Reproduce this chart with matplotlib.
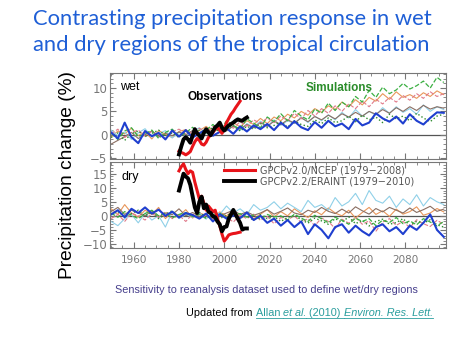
import matplotlib
matplotlib.use("Agg")
import matplotlib.pyplot as plt
from matplotlib.lines import Line2D
from matplotlib.ticker import MultipleLocator

# simulation years (3-yearly samples)
sim_years = list(range(1950, 2098, 3))

# wet regions, model simulations (%)
wet_blue = [0.5, -0.8, 2.6, -0.5, -1.8, 0.8, -0.3, 0.4, -1.0, 0.9, -0.4, 1.0, -0.6, 0.3, 1.1, -0.2,
            0.6, 1.4, 0.2, 1.8, 0.7, 2.0, 1.2, 2.3, 1.0, 2.6, 1.4, 2.9, 1.6, 1.0, 2.7, 1.5, 3.0, 1.8,
            2.4, 1.2, 3.4, 2.0, 2.6, 4.6, 3.5, 2.8, 3.9, 2.4, 4.4, 3.0, 2.2, 3.6, 4.8, 4.7]
wet_green = [0.3, -1.0, 0.8, 1.5, -0.4, 0.2, 1.0, -0.8, 0.5, 1.2, -0.3, 0.4, 1.6, 0.0, 1.0, 2.2,
             0.8, 3.0, 2.0, 1.2, 3.4, 2.5, 1.5, 3.8, 2.8, 4.5, 3.0, 5.2, 4.0, 3.2, 5.5, 4.6, 6.8, 5.2,
             7.0, 6.0, 8.2, 7.0, 9.5, 8.0, 10.2, 8.8, 9.6, 11.0, 9.8, 10.5, 11.5, 10.0, 12.3, 11.2]
wet_orange = [-0.5, 0.8, 0.2, 1.4, -0.2, 0.6, -0.9, 0.9, 0.1, -0.6, 0.7, 1.1, 0.0, 0.9, 1.8, 0.6,
              2.0, 1.3, 2.6, 1.7, 3.0, 2.2, 3.5, 2.4, 3.8, 3.0, 4.4, 3.6, 5.0, 4.2, 5.6, 4.8, 6.2, 5.4,
              7.0, 6.0, 7.5, 6.4, 8.0, 7.2, 8.8, 7.6, 9.2, 8.0, 8.6, 7.8, 9.0, 8.2, 9.4, 8.6]
wet_cyan = [1.0, -0.2, 0.6, -1.0, 0.4, 1.3, -0.5, 0.2, 0.9, -0.7, 0.5, -0.2, 0.8, 1.5, 0.3, 1.0,
            2.2, 1.0, 1.8, 0.9, 2.4, 1.6, 2.9, 1.8, 3.2, 2.0, 3.0, 2.4, 3.8, 2.6, 4.0, 3.0, 4.3, 3.2,
            4.8, 3.6, 5.4, 4.0, 5.0, 4.2, 5.8, 4.6, 6.0, 4.8, 5.6, 4.4, 6.4, 5.0, 6.0, 5.4]
wet_brown = [-2.0, -1.2, -0.4, 0.5, -0.8, 0.0, 0.8, -0.5, 0.3, -0.2, 0.6, 0.0, 0.9, 0.4, 1.2, 0.5,
             1.5, 0.8, 1.9, 1.2, 2.2, 1.5, 2.6, 1.8, 2.9, 2.2, 3.2, 2.5, 3.6, 2.8, 3.9, 3.2, 4.2, 3.4,
             4.5, 3.8, 4.8, 4.0, 5.0, 4.4, 5.4, 4.6, 5.8, 5.0, 6.0, 5.2, 6.3, 5.5, 6.0, 5.7]
wet_pink = [0.2, 1.2, -0.6, 0.5, 1.0, -0.3, 0.7, 0.0, -0.8, 0.6, 1.2, 0.2, 0.6, 1.4, 0.5, 1.8,
            1.0, 2.3, 1.4, 2.8, 1.8, 3.2, 2.4, 3.6, 2.6, 4.0, 3.0, 4.6, 3.4, 5.2, 4.0, 5.6, 4.6, 6.2,
            5.0, 6.6, 5.6, 7.2, 6.0, 7.6, 6.6, 8.0, 7.0, 8.4, 7.4, 8.8, 7.8, 9.2, 8.2, 8.8]
wet_dkgreen = [-0.6, 0.4, -1.2, 0.2, 0.8, -0.4, 0.3, 1.0, -0.2, 0.4, -0.6, 0.8, 0.2, 1.0, 0.4, 1.6,
               0.6, 1.3, 2.0, 0.8, 1.8, 1.2, 2.4, 1.5, 2.0, 2.8, 1.6, 3.0, 2.2, 1.8, 3.2, 2.4, 3.6, 2.6,
               3.0, 4.0, 2.8, 4.2, 3.2, 3.8, 2.6, 4.4, 3.4, 4.0, 3.0, 4.6, 3.6, 2.8, 4.0, 4.4]

# dry regions, model simulations (%)
dry_blue = [0.5, 2.0, -0.5, 2.5, 1.0, 3.0, 0.8, 2.2, 0.0, 1.5, -0.6, 1.0, 0.3, -1.0, 0.8, -2.0,
            0.6, -1.0, 0.2, -0.8, 1.2, -1.5, 0.0, -2.5, -1.0, -3.5, -1.5, -4.0, -2.0, -6.5, -3.0, -5.0,
            -8.0, -4.0, -3.0, -6.0, -3.5, -5.5, -7.0, -4.0, -3.0, -5.5, -4.0, -6.5, -3.5, -5.0, -2.5,
            0.5, -5.0, -7.5]
dry_cyan = [-2.0, -3.5, -1.0, 0.5, -2.5, 1.0, -1.5, 0.0, -4.0, 1.5, -1.0, 0.5, -0.5, 1.0, -1.2, 2.0,
            0.5, 3.5, 1.0, 2.5, 0.5, 4.0, 2.0, 3.0, 5.0, 2.5, 4.5, 3.0, 1.5, 5.5, 3.0, 4.0, 2.0, 6.5,
            3.5, 5.0, 8.0, 4.0, 9.0, 5.5, 4.5, 7.0, 3.0, 6.0, 4.0, 7.5, 3.5, 6.5, 5.0, 4.0]
dry_green = [1.0, -0.5, 1.5, 0.2, -1.0, 0.8, 2.0, 0.0, 1.0, -0.8, 0.5, 1.2, -0.3, 0.6, -1.0, 0.4,
             1.0, -0.6, 0.2, 0.8, -0.5, 0.3, -1.2, 0.5, -0.4, 0.0, -1.5, 0.6, -0.8, -2.0, 0.2, -1.0,
             -2.5, -0.5, -1.6, -3.0, -0.8, -2.0, -1.0, -3.5, -1.5, -2.4, -0.6, -2.8, -1.8, -3.2, -1.0,
             -2.2, -3.6, -2.0]
dry_orange = [2.5, 0.5, 4.0, 1.0, -0.5, 2.0, 0.5, 3.0, -1.0, 1.5, 0.0, 2.2, -0.8, 1.0, 0.2, -1.2,
              1.4, 0.0, 2.0, -0.5, 1.0, -1.0, 0.6, 2.2, -0.4, 1.5, 0.0, 2.5, 0.8, -0.6, 1.8, 0.4, 2.8,
              1.0, 0.0, 2.0, -0.8, 1.2, 3.0, 0.5, 1.8, -0.2, 2.4, 0.6, 1.5, 3.2, 0.2, 1.0, 2.6, 1.4]
dry_brown = [1.5, 3.0, 0.5, 2.0, 1.0, 0.0, 1.8, -0.5, 1.0, 0.4, 2.5, 0.0, 1.2, -0.2, 0.8, 1.5,
             0.0, 1.0, 2.0, 0.5, 1.4, 0.2, 1.0, 2.2, 0.6, 1.6, 2.8, 1.0, 0.4, 2.0, 1.2, 3.0, 1.6, 0.8,
             2.4, 1.0, 3.2, 1.8, 0.6, 2.6, 1.4, 3.0, 2.0, 1.0, 2.8, 1.2, 2.2, 3.4, 1.6, 2.4]
dry_pink = [-1.0, 0.5, -2.0, 1.0, 0.0, -1.5, 0.8, -0.5, 1.5, -1.0, 0.2, -2.0, 0.6, -0.8, 0.0, -1.2,
            0.4, -0.4, -2.2, 0.2, -1.0, 0.6, -1.6, -0.2, -2.8, -0.6, -1.4, 0.0, -2.4, -1.0, -3.5, -0.8,
            -2.0, -4.5, -1.2, -2.6, -0.6, -3.0, -1.8, -5.5, -2.2, -1.0, -3.4, -2.0, -4.2, -1.4, -2.8,
            -3.8, -1.6, -3.0]
dry_dkgreen = [0.5, 1.5, -0.2, 0.8, 2.0, 0.0, 1.2, -1.0, 0.6, 1.8, -0.4, 0.8, 0.0, 1.2, -0.6, 0.4,
               -1.0, 0.2, 0.8, -0.8, 0.0, -1.6, 0.4, -1.0, -0.2, -2.0, -0.6, 0.2, -1.4, -2.6, -0.8, -1.8,
               -3.0, -1.0, -2.2, -0.4, -2.8, -1.6, -3.6, -2.0, -1.2, -3.0, -2.4, -1.0, -3.4, -2.0, -2.6,
               -1.4, -3.2, -4.0]

# observations
ncep_years = list(range(1980, 2008))
ncep_wet = [-3.5, -3.8, -4.0, -4.3, -4.0, -3.6, -2.5, -1.5, -0.8, -1.2, -2.0, -2.2, -1.6, -0.6,
            0.0, 0.5, 1.2, 1.6, 1.0, 0.3, 1.2, 2.6, 3.5, 4.4, 5.0, 5.8, 6.5, 7.2]
ncep_dry = [16.0, 17.5, 18.5, 16.5, 15.0, 16.0, 15.5, 12.0, 9.0, 6.0, 7.0, 4.5, 2.0, 3.5,
            2.5, 1.5, 2.0, -1.0, -3.5, -6.5, -9.0, -8.0, -6.8, -6.5, -6.3, -6.2, -6.0, -5.8]
erai_years = list(range(1980, 2011))
erai_wet = [-4.2, -2.5, -1.0, -0.5, -1.0, -1.7, -0.2, 1.2, 0.3, -0.2, -0.8, 0.4, 1.2, 0.5, -0.1,
            0.8, 1.6, 2.0, 2.6, 1.5, 0.9, 1.5, 2.0, 2.3, 2.6, 3.0, 3.3, 3.1, 3.0, 3.4, 3.7]
erai_dry = [9.0, 12.0, 15.0, 14.0, 13.3, 11.0, 7.0, 3.0, 1.0, 5.0, 6.8, 2.7, 4.0, 1.5, 1.0,
            -0.2, -0.5, -2.0, -3.0, -5.5, -4.0, -3.8, -1.0, 0.5, 2.1, 0.5, -1.0, -2.5, -4.9, -4.5, -4.5]

sim_styles = [
    ("#e8965a", "-", 0.8),    # orange
    ("#8fd0e8", "-", 0.8),    # light blue
    ("#8a6e62", "-", 0.8),    # brown
    ("#e07a8a", "--", 0.8),   # pink dashed
    ("#2e8b2e", ":", 1.0),    # dark green dotted
    ("#3cb043", "--", 0.9),   # green dashed
    ("#1f3fcf", "-", 1.5),    # blue
]
wet_sims = [wet_orange, wet_cyan, wet_brown, wet_pink, wet_dkgreen, wet_green, wet_blue]
dry_sims = [dry_orange, dry_cyan, dry_brown, dry_pink, dry_dkgreen, dry_green, dry_blue]

W, H = 474, 355
fig = plt.figure(figsize=(W / 100, H / 100), dpi=100)
ax1 = fig.add_axes([0.232, 0.552, 0.709, 0.242])
ax2 = fig.add_axes([0.232, 0.301, 0.709, 0.243])

for ax, sims, obs_r, obs_k in [(ax1, wet_sims, ncep_wet, erai_wet), (ax2, dry_sims, ncep_dry, erai_dry)]:
    ax.axhline(0, color="#555555", lw=0.9, zorder=1)
    for vals, (c, ls, lw) in zip(sims, sim_styles):
        ax.plot(sim_years, vals, color=c, ls=ls, lw=lw, zorder=2)
    ax.plot(ncep_years, obs_r, color="#e8141a", lw=2.2, zorder=4, label="GPCPv2.0/NCEP (1979\u22122008)")
    ax.plot(erai_years, obs_k, color="black", lw=2.8, zorder=5, label="GPCPv2.2/ERAINT (1979\u22122010)")
    ax.set_xlim(1949.5, 2098)
    ax.xaxis.set_major_locator(MultipleLocator(20))
    ax.xaxis.set_minor_locator(MultipleLocator(5))
    ax.yaxis.set_major_locator(MultipleLocator(5))
    ax.yaxis.set_minor_locator(MultipleLocator(1))
    ax.tick_params(which="both", direction="in", top=True, right=True, color="#777777",
                   labelcolor="#777777", labelsize=8.5, pad=2)
    ax.tick_params(which="major", length=4)
    ax.tick_params(which="minor", length=2)
    for s in ax.spines.values():
        s.set_color("#777777")
        s.set_linewidth(0.8)

ax1.set_ylim(-5.2, 13.2)
ax2.set_ylim(-11.5, 19.2)
ax1.tick_params(labelbottom=False)
ax2.tick_params(axis="x", labelsize=7.5, pad=5)

ax1.text(0.03, 0.84, "wet", transform=ax1.transAxes, fontsize=9, va="center", family="Liberation Sans")
ax2.text(0.035, 0.83, "dry", transform=ax2.transAxes, fontsize=9, va="center", family="Liberation Sans")
fig.text(225 / W, 1 - 97 / H, "Observations", fontsize=8.5, weight="bold", ha="center", va="center",
         family="Liberation Sans")
fig.text(339 / W, 1 - 88 / H, "Simulations", fontsize=8.5, weight="bold", ha="center", va="center",
         color="#2a8c2a", family="Liberation Sans")

leg = ax2.legend(loc="upper left", bbox_to_anchor=(0.32, 1.04), frameon=False, fontsize=7,
                 handlelength=3.2, handletextpad=0.5, labelspacing=0.15, borderpad=0.2)
for t in leg.get_texts():
    t.set_color("#555555")

fig.text(33 / W, 1 - 32 / H, "Contrasting precipitation response in wet\nand dry regions of the tropical circulation",
         fontsize=15.8, color="#1f5fd6", family="Lato", va="center", ha="left", linespacing=1.4)

fig.text(67 / W, 1 - 175 / H, "Precipitation change (%)", rotation=90, fontsize=13.8, ha="center", va="center",
         family="Liberation Sans")

fig.text(115 / W, 1 - 290 / H, "Sensitivity to reanalysis dataset used to define wet/dry regions",
         fontsize=7.8, color="#463f8c", va="center", family="Liberation Sans")

teal = "#2a9d9d"
pieces = [("Updated from ", "black", "normal", False), ("Allan ", teal, "normal", True),
          ("et al.", teal, "italic", True), (" (2010) ", teal, "normal", True),
          ("Environ. Res. Lett.", teal, "italic", True)]
renderer = fig.canvas.get_renderer()
x = 186 / W
y = 1 - 313 / H
for s, c, st, ul in pieces:
    t = fig.text(x, y, s, color=c, style=st, fontsize=7.8, va="center", family="Liberation Sans")
    bb = t.get_window_extent(renderer)
    if ul:
        fig.add_artist(Line2D([bb.x0 / W, bb.x1 / W], [(bb.y0 + 0.5) / H] * 2, color=c, lw=0.6))
    x = bb.x1 / W

fig.savefig("out.png", dpi=100)
